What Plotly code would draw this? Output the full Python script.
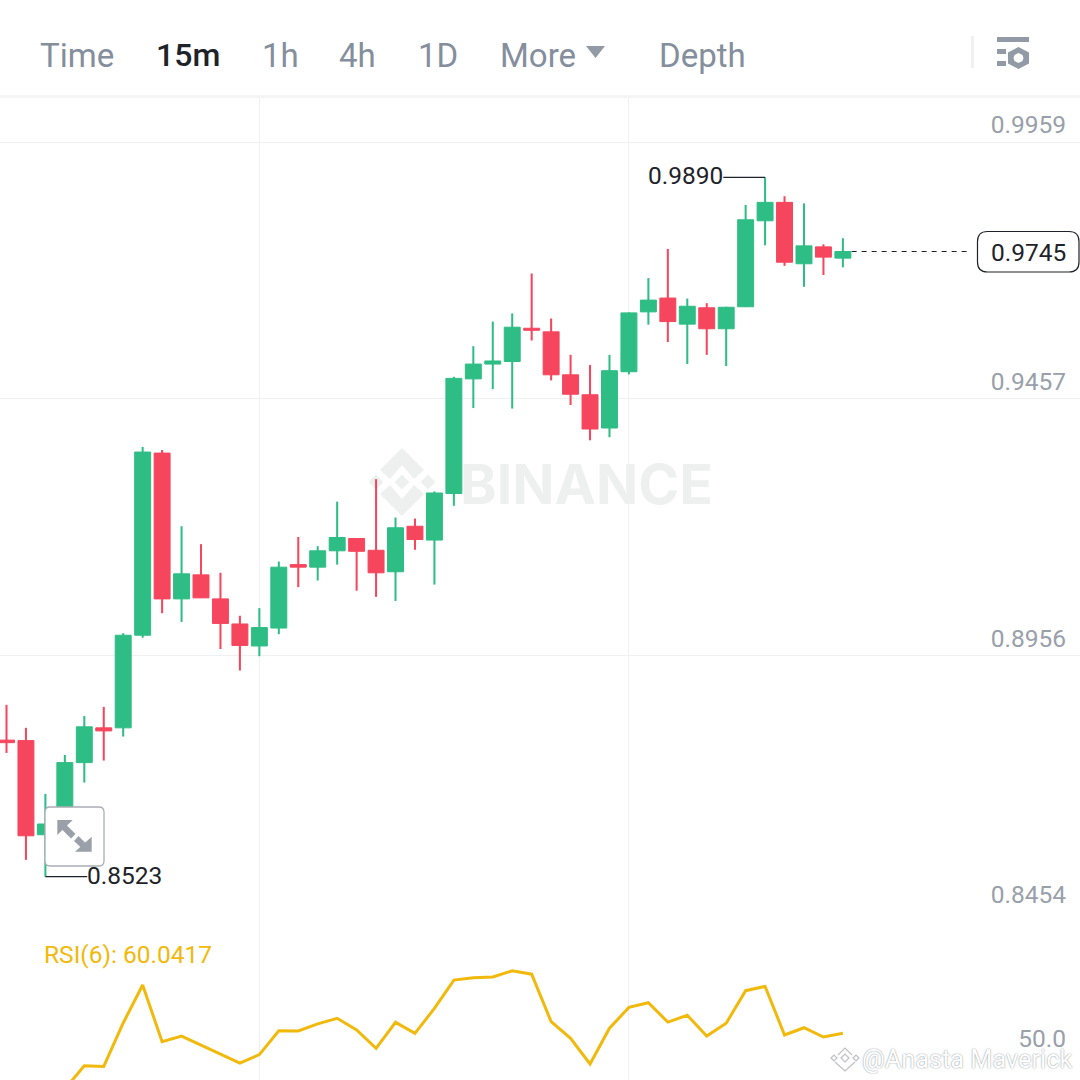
import plotly.graph_objects as go

# ---------- data ----------
index = list(range(44))
opens = [.8790,.8789,.8605,.8622,.8746,.8814,.8814,.8995,.9351,.9066,.9113,.9066,.9017,.8974,.9009,.9133,.9128,.9160,.9184,.9161,.9119,.9208,.9181,.9272,.9496,.9525,.9530,.9595,.9588,.9504,.9465,.9400,.9510,.9627,.9654,.9603,.9635,.9594,.9637,.9805,.9841,.9721,.9754,.9732]
highs = [.8859,.8814,.8685,.8761,.8837,.8855,.8999,.9363,.9357,.9208,.9173,.9117,.9033,.9048,.9139,.9187,.9169,.9256,.9185,.9300,.9225,.9223,.9276,.9500,.9560,.9608,.9624,.9702,.9614,.9543,.9523,.9543,.9626,.9693,.9750,.9653,.9644,.9637,.9836,.9890,.9853,.9839,.9759,.9771]
lows = [.8765,.8556,.8523,.8614,.8707,.8750,.8797,.8990,.9038,.9021,.9068,.8968,.8926,.8954,.8997,.9089,.9102,.9133,.9082,.9070,.9062,.9162,.9094,.9248,.9439,.9476,.9438,.9571,.9493,.9445,.9376,.9382,.9505,.9602,.9568,.9525,.9543,.9521,.9637,.9757,.9717,.9676,.9699,.9714]
closes = [.8785,.8603,.8626,.8746,.8816,.8808,.8995,.9353,.9066,.9115,.9068,.9018,.8975,.9010,.9128,.9128,.9160,.9186,.9159,.9117,.9205,.9182,.9273,.9497,.9525,.9531,.9597,.9591,.9504,.9466,.9398,.9512,.9625,.9650,.9608,.9638,.9594,.9636,.9807,.9841,.9724,.9756,.9734,.9745]
rsi = [None,None,None,35.4,45.7,45.4,64.6,81.4,56.3,58.8,54.9,50.9,46.9,50.6,61.2,61.1,64.2,66.7,61.5,53.4,64.9,60.0,71.1,83.6,84.6,85.0,87.7,86.2,65.2,57.8,46.5,62.3,71.5,73.6,65.0,68.0,58.8,64.5,78.9,80.8,59.3,62.5,58.4,60.0417]
price_ticks = [0.9959, 0.9457, 0.8956, 0.8454]
rsi_ticks = [50.0]
grid_idx = [13, 32]
menu_labels = ["Time", "15m", "1h", "4h", "1D", "More", "Depth"]
last_price = 0.9745
max_price, max_idx = 0.9890, 39
min_price, min_idx = 0.8523, 2

GREEN, RED, YEL = "#2EBD85", "#F6465D", "#F0B90B"
GRID, TICK, DARK = "#EEF0F3", "#99A0AA", "#1E2329"
FONT = "Roboto"
X = lambda p: p / 1080
Y = lambda p: 1 - p / 1080

fig = go.Figure()
colors = [GREEN if c >= o else RED for o, c in zip(opens, closes)]
# wicks
fig.add_trace(go.Bar(x=index, base=lows, y=[h - l for h, l in zip(highs, lows)], width=0.105,
                     marker=dict(color=colors, line=dict(width=0)), showlegend=False))
# bodies
fig.add_trace(go.Bar(x=index, base=[min(o, c) for o, c in zip(opens, closes)],
                     y=[abs(c - o) for o, c in zip(opens, closes)], width=0.82,
                     marker=dict(color=colors, line=dict(color=colors, width=1)), showlegend=False))
fig.add_trace(go.Scatter(x=index, y=rsi, mode="lines", line=dict(color=YEL, width=3),
                         showlegend=False, xaxis="x2", yaxis="y2"))
# leaders for max, min and last price
fig.add_trace(go.Scatter(x=[max_idx - 2.15, max_idx], y=[max_price] * 2, mode="lines",
                         line=dict(color=DARK, width=1.3), showlegend=False))
fig.add_trace(go.Scatter(x=[min_idx, min_idx + 2.15], y=[min_price] * 2, mode="lines",
                         line=dict(color=DARK, width=1.3), showlegend=False))
fig.add_trace(go.Scatter(x=[43.45, 49.45], y=[last_price] * 2, mode="lines",
                         line=dict(color=DARK, width=1.2, dash="5px,5px"), showlegend=False))

axis_x = dict(range=[-0.334, 55.19], tickvals=grid_idx, showticklabels=False, ticks="",
              showgrid=True, gridcolor=GRID, gridwidth=1, zeroline=False, showline=False,
              fixedrange=True)
fig.update_layout(
    width=1080, height=1080, margin=dict(l=0, r=0, t=0, b=0),
    paper_bgcolor="white", plot_bgcolor="white", barmode="overlay", showlegend=False,
    font=dict(family=FONT),
    xaxis=dict(axis_x, domain=[0, 1], anchor="y"),
    xaxis2=dict(axis_x, domain=[0, 1], anchor="y2"),
    yaxis=dict(domain=[Y(912), Y(97)], range=[0.845404, 1.004695], side="right",
               tickvals=price_ticks, ticktext=[f"{v:.4f}" for v in price_ticks],
               ticklabelposition="inside top", ticklabelstandoff=11, ticks="",
               tickfont=dict(size=24.5, color=TICK, family=FONT),
               showgrid=True, gridcolor=GRID, zeroline=False, fixedrange=True),
    yaxis2=dict(domain=[0, Y(912)], range=[39.38, 113.72], side="right",
                tickvals=rsi_ticks, ticktext=[f"{v:.1f}" for v in rsi_ticks],
                ticklabelposition="inside top", ticklabelstandoff=11, ticks="",
                tickfont=dict(size=24.5, color=TICK, family=FONT),
                showgrid=False, zeroline=False, fixedrange=True),
)

# ---------- text ----------
def note(text, px, py, size, color, anchor="left", family=FONT, weight=None, shadow=None):
    font = dict(size=size, color=color, family=family)
    if weight:
        font["weight"] = weight
    if shadow:
        font["shadow"] = shadow
    fig.add_annotation(xref="paper", yref="paper", x=X(px), y=Y(py), text=text,
                       showarrow=False, xanchor=anchor, yanchor="middle", font=font)

menu_x = [38, 154, 260, 337, 416, 498, 657]
for label, px in zip(menu_labels, menu_x):
    active = label == "15m"
    note(label, px, 55, 32 if active else 33, DARK if active else "#848E9C", weight=500 if active else None)

note("RSI(6): 60.0417", 42, 954, 24.5, YEL)
fig.add_annotation(xref="x", yref="y", x=max_idx - 2.15, y=max_price, text=f"{max_price:.4f}",
                   showarrow=False, xanchor="right", yanchor="middle", xshift=2, yshift=2,
                   font=dict(size=24.5, color=DARK, family=FONT))
fig.add_annotation(xref="x", yref="y", x=min_idx + 2.15, y=min_price, text=f"{min_price:.4f}",
                   showarrow=False, xanchor="left", yanchor="middle", xshift=-2, yshift=1,
                   font=dict(size=24.5, color=DARK, family=FONT))
note(f"{last_price:.4f}", 1028, 252, 24.5, DARK, anchor="center")
note("@Anasta Maverick", 860, 1059, 25.3, "white", shadow="0 0 1.5px #6f7780")

# ---------- shapes (chrome) ----------
def shape_path(d, fill, line=None, width=0, layer="above", **kw):
    fig.add_shape(type="path", xref="paper", yref="paper", path=d, fillcolor=fill,
                  line=dict(color=line or fill, width=width), layer=layer, **kw)

def poly(pts, close=True):
    return "M" + " L".join(f"{X(a):.5f},{Y(b):.5f}" for a, b in pts) + (" Z" if close else "")

def rrect(x0, y0, x1, y1, r):
    return (f"M{X(x0+r):.5f},{Y(y0):.5f} L{X(x1-r):.5f},{Y(y0):.5f} Q{X(x1):.5f},{Y(y0):.5f} {X(x1):.5f},{Y(y0+r):.5f} "
            f"L{X(x1):.5f},{Y(y1-r):.5f} Q{X(x1):.5f},{Y(y1):.5f} {X(x1-r):.5f},{Y(y1):.5f} "
            f"L{X(x0+r):.5f},{Y(y1):.5f} Q{X(x0):.5f},{Y(y1):.5f} {X(x0):.5f},{Y(y1-r):.5f} "
            f"L{X(x0):.5f},{Y(y0+r):.5f} Q{X(x0):.5f},{Y(y0):.5f} {X(x0+r):.5f},{Y(y0):.5f} Z")

def diamond(cx, cy, r):
    return poly([(cx, cy - r), (cx + r, cy), (cx, cy + r), (cx - r, cy)])

def rect(x0, y0, x1, y1):
    return poly([(x0, y0), (x1, y0), (x1, y1), (x0, y1)])

# header rule and separator
shape_path(rect(0, 95, 1080, 98), "#F5F5F5")
shape_path(rect(971, 36, 974, 68), "#EEF0F3")
shape_path(poly([(586, 46), (605, 46), (595.5, 58)]), "#929AA5")
# settings icon
shape_path(rect(997, 37, 1029, 42), "#929AA5")
shape_path(rect(997, 49, 1006, 54), "#929AA5")
shape_path(rect(997, 61, 1006, 66), "#929AA5")
shape_path(poly([(1018.5, 47), (1029, 52.5), (1029, 63.5), (1018.5, 69), (1008, 63.5), (1008, 52.5)]) + " " +
           poly([(1018.5, 53), (1022.5, 55), (1023.5, 58), (1022.5, 61), (1018.5, 63), (1014.5, 61), (1013.5, 58), (1014.5, 55)]),
           "#929AA5", fillrule="evenodd")
# watermark logo and wordmark, both beneath the candles
wm = "#EEF0F0"
shape_path(poly([(402, 448), (424, 470), (414, 479), (402, 465), (390, 479), (380, 470)]), wm, layer="below")
shape_path(poly([(402, 516), (424, 494), (414, 485), (402, 499), (390, 485), (380, 494)]), wm, layer="below")
shape_path(diamond(402, 482, 7.5), wm, layer="below")
shape_path(diamond(428, 482, 7.5), wm, layer="below")
shape_path(diamond(376, 482, 7.5), wm, layer="below")
fig.add_shape(type="rect", xref="paper", yref="paper", x0=X(457), x1=X(716), y0=Y(452), y1=Y(512),
              layer="below", line=dict(width=0), fillcolor="rgba(0,0,0,0)",
              label=dict(text="<b>BINANCE</b>", textposition="middle center", padding=0,
                         font=dict(size=55.5, color=wm, family="Inter")))
# last price tag
shape_path(rrect(977.5, 231.5, 1079, 272, 10), "white", line=DARK, width=1.2)
# expand button
shape_path(rrect(45, 807, 104, 866, 5), "white", line="#A9AEB6", width=1.3)
icon = "#9AA0A9"
shape_path(poly([(57.3, 820), (72.7, 820), (57.3, 835)]), icon)
shape_path(poly([(65, 823.5), (75.5, 834), (71, 838.5), (60.5, 828)]), icon)
shape_path(poly([(91.7, 851.7), (75, 851.7), (91.7, 836.7)]), icon)
shape_path(poly([(78.5, 836), (89, 846.5), (84.5, 851), (74, 841)]), icon)
# small footer logo
foot = dict(color="#BDC1C6", width=1.2)
for path in [poly([(838, 1055), (845, 1048), (852, 1055)], False),
             poly([(841, 1058), (845, 1054), (849, 1058), (845, 1062)]),
             poly([(831, 1058), (834, 1055), (837, 1058), (834, 1061)]),
             poly([(853, 1058), (856, 1055), (859, 1058), (856, 1061)]),
             poly([(835, 1062), (845, 1071), (855, 1062)], False)]:
    fig.add_shape(type="path", xref="paper", yref="paper", layer="above", line=foot, path=path)

fig.write_html("out.html", config={"displayModeBar": False, "staticPlot": True},
               post_script="document.body.style.margin='0';document.body.style.overflow='hidden';")
